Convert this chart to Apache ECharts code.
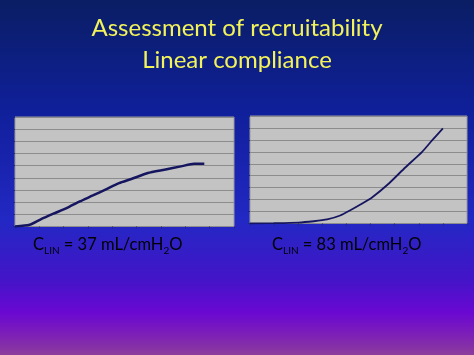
<!DOCTYPE html>
<html><head><meta charset="utf-8">
<script src="https://cdn.jsdelivr.net/npm/echarts@6/dist/echarts.min.js"></script>
<style>html,body{margin:0;padding:0;background:#0a1e64;}#c{width:474px;height:355px;}</style>
</head><body><div id="c"></div>
<script>
// Left chart (C_LIN = 37): pressure vs volume
const leftX = [0, 3, 5.1, 7.9, 10.6, 13.3, 16, 18.8, 21.4, 23.9, 27.3, 30.7, 34.1, 36.8, 38.9];
const leftY = [0, 14, 55, 105, 151, 206, 255, 308, 357, 390, 440, 467, 494, 516, 516];
// Right chart (C_LIN = 83)
const rightX = [0, 4.9, 10, 13.2, 16, 18.7, 20.8, 22.9, 25.3, 28.8, 32.2, 35.7, 37.8, 40];
const rightY = [0, 3, 8, 19, 34, 67, 111, 159, 218, 335, 469, 600, 698, 796];
const titleLines = ['Assessment of recruitability', 'Linear compliance'];
const leftLabel = ['C', 'LIN', ' = 37 mL/cmH', '2', 'O'];
const rightLabel = ['C', 'LIN', ' = 83 mL/cmH', '2', 'O'];
const xMax = 45, xStep = 5, yMax = 900, yStep = 100;

const chart = echarts.init(document.getElementById('c'), null, {renderer: 'canvas'});
const pairs = (xs, ys) => xs.map((x, i) => [x, ys[i]]);
const FONT = 'Lato, "Open Sans", sans-serif';
function axisX(gi) {
  return {type: 'value', gridIndex: gi, min: 0, max: xMax, interval: xStep,
    axisLine: {show: false}, splitLine: {show: false},
    axisTick: {show: true, length: 2, lineStyle: {color: '#1a2a80', width: 1}},
    axisLabel: {show: false}};
}
function axisY(gi) {
  return {type: 'value', gridIndex: gi, min: 0, max: yMax, interval: yStep,
    axisLine: {show: false},
    axisTick: {show: true, length: 2, lineStyle: {color: '#1a2a80', width: 1}},
    axisLabel: {show: false},
    splitLine: {show: true, lineStyle: {color: '#8c8c8c', width: 1}}};
}
function rich(parts) {
  return '{n|' + parts[0] + '}{s|' + parts[1] + '}{n|' + parts[2] + '}{s|' + parts[3] + '}{n|' + parts[4] + '}';
}
const richStyle = {
  n: {fontSize: 16.5, fontFamily: FONT, color: '#ffffff', lineHeight: 22},
  s: {fontSize: 10, fontFamily: FONT, color: '#ffffff', lineHeight: 7, verticalAlign: 'bottom'}
};
chart.setOption({
  animation: false,
  graphic: [
    {type: 'rect', z: -10, silent: true, shape: {x: 0, y: 0, width: 474, height: 355},
      style: {fill: new echarts.graphic.LinearGradient(0, 0, 0, 1, [
        {offset: 0, color: '#0a1e64'},
        {offset: 0.3, color: '#0f1f98'},
        {offset: 0.62, color: '#2228c4'},
        {offset: 0.79, color: '#4414c8'},
        {offset: 0.88, color: '#6a08d2'},
        {offset: 0.94, color: '#7c1eb8'},
        {offset: 1, color: '#8c3c9c'}
      ])}},
    {type: 'text', left: 'center', top: 16, style: {text: titleLines[0], fill: '#f2f25a', font: '24px ' + FONT}},
    {type: 'text', left: 'center', top: 48, style: {text: titleLines[1], fill: '#f2f25a', font: '24px ' + FONT}},
    {type: 'text', left: 33, top: 236, style: {text: rich(leftLabel), rich: richStyle}},
    {type: 'text', left: 272, top: 236, style: {text: rich(rightLabel), rich: richStyle}}
  ],
  grid: [
    {left: 15, top: 117, width: 219, height: 109.5, show: true, backgroundColor: '#c3c3c3', borderColor: '#9a9a9a', borderWidth: 1},
    {left: 250, top: 116, width: 217, height: 107.5, show: true, backgroundColor: '#c3c3c3', borderColor: '#9a9a9a', borderWidth: 1}
  ],
  xAxis: [axisX(0), axisX(1)],
  yAxis: [axisY(0), axisY(1)],
  series: [
    {type: 'line', xAxisIndex: 0, yAxisIndex: 0, data: pairs(leftX, leftY), smooth: 0.2, symbol: 'none',
      lineStyle: {color: '#161660', width: 2.5}},
    {type: 'line', xAxisIndex: 1, yAxisIndex: 1, data: pairs(rightX, rightY), smooth: 0.2, symbol: 'none',
      lineStyle: {color: '#161660', width: 1.8}}
  ]
});
</script></body></html>
